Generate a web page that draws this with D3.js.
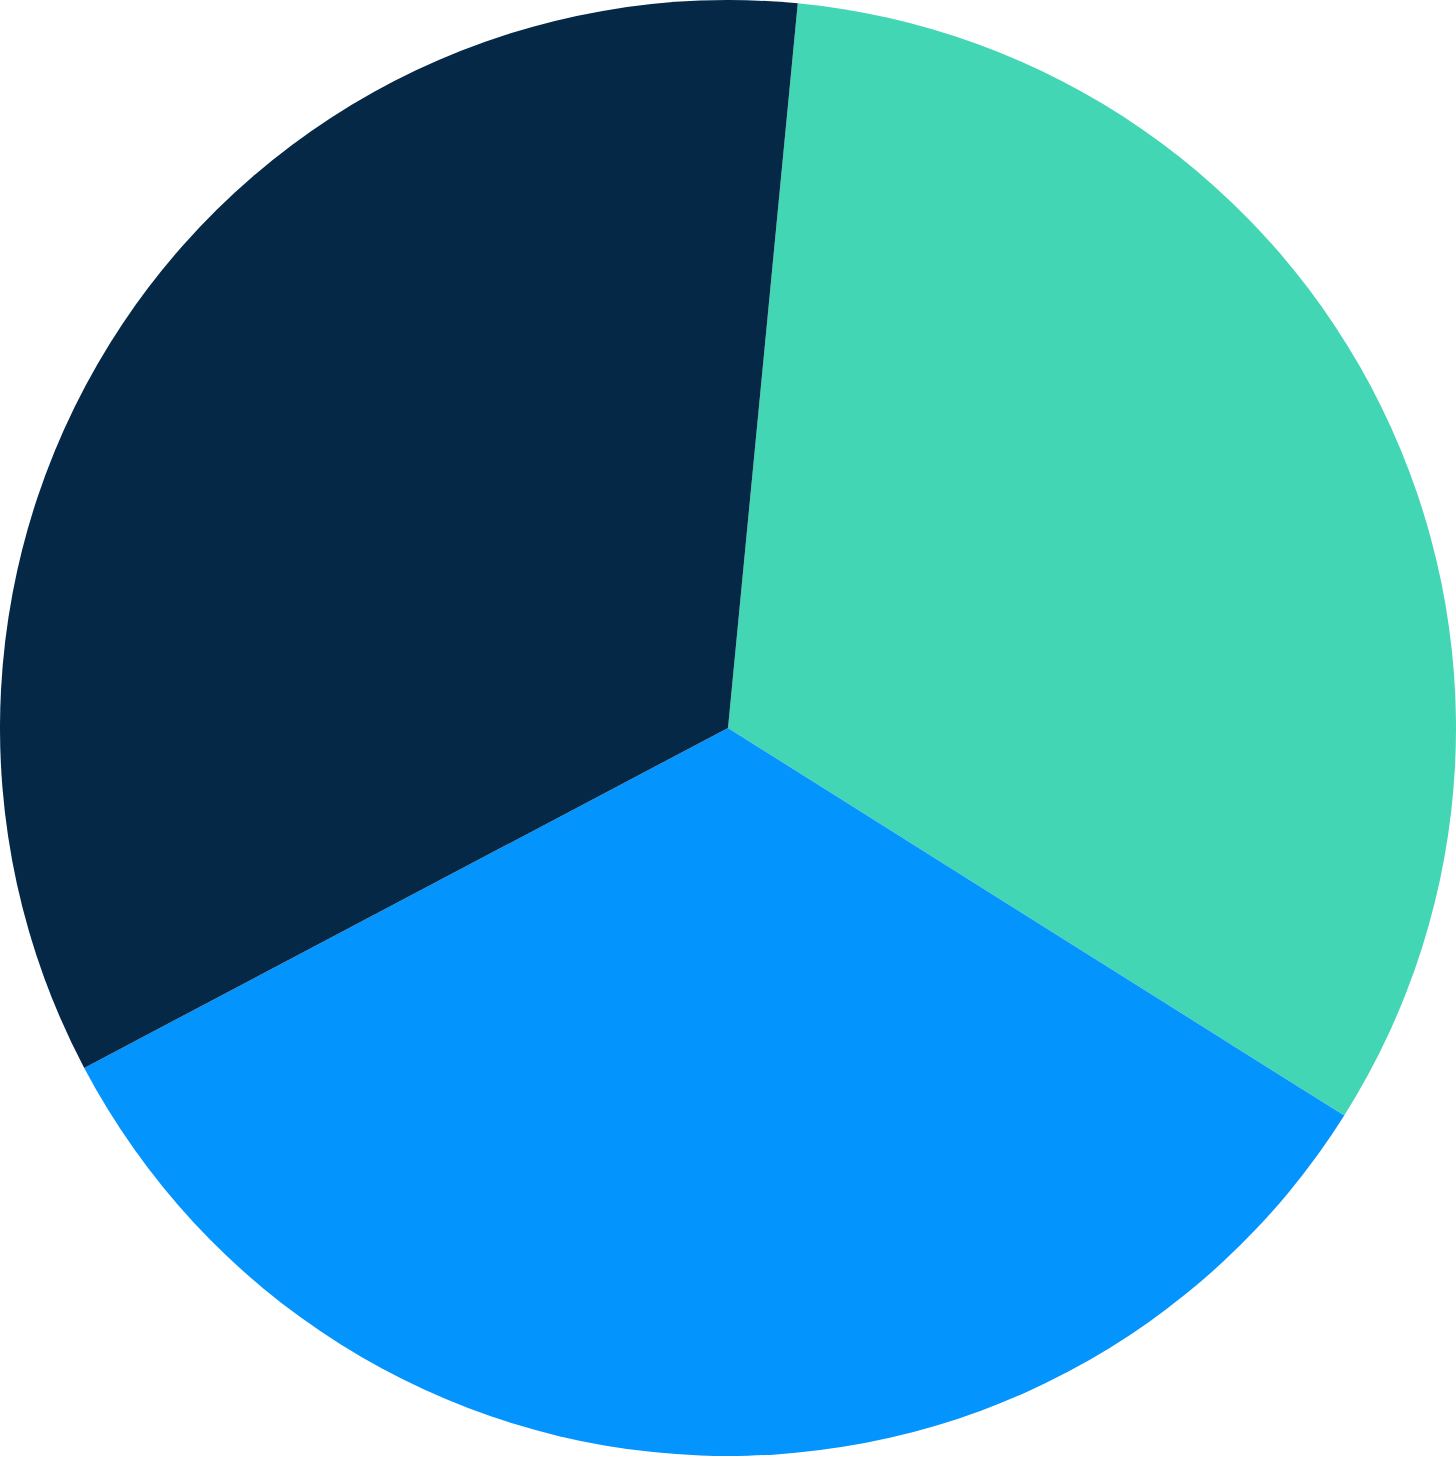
<!DOCTYPE html>
<html>
<head>
<meta charset="utf-8">
<script src="https://cdn.jsdelivr.net/npm/d3@7"></script>
<style>
  html, body { margin: 0; padding: 0; background: #fff; }
  svg { display: block; }
</style>
</head>
<body>
<svg class="chart"></svg>
<script>
var categories = ["A", "B", "C"];
var values = [35, 36, 37];
var colors = ["#42d6b4", "#0494fe", "#052846"];

var w = 1456,
		h = 1457,
		r = 728,
		offset = 5.5 * Math.PI / 180; // first slice starts a bit past 12 o'clock

var chart = d3.select(".chart")
		.attr("width", w)
		.attr("height", h);

var color = d3.scaleOrdinal()
		.domain(categories)
		.range(colors);

var pie = d3.pie()
		.sort(null)
		.value(function(d, i) { return values[i]; })
		.startAngle(offset)
		.endAngle(offset + 2 * Math.PI);

var arc = d3.arc()
		.innerRadius(0)
		.outerRadius(r);

var g = chart.append("g")
		.attr("transform", "translate(" + r + "," + r + ")");

g.selectAll("path")
	.data(pie(categories))
	.enter().append("path")
		.attr("d", arc)
		.attr("fill", function(d) { return color(d.data); });
</script>
</body>
</html>
